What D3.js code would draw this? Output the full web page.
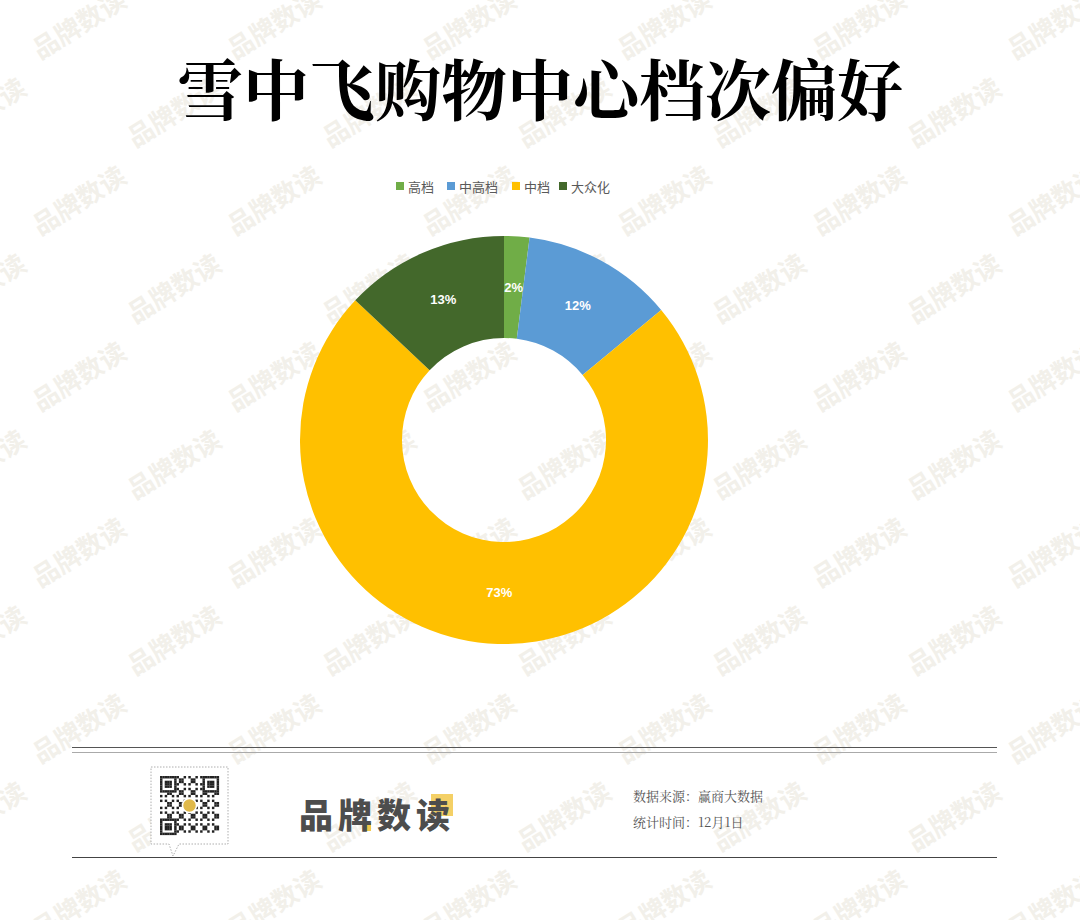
<!DOCTYPE html>
<html><head><meta charset="utf-8">
<script src="https://cdn.jsdelivr.net/npm/d3@7"></script>
<style>
html,body{margin:0;padding:0;background:#fff;}
svg{display:block;}
</style></head>
<body>
<svg id="chart" width="1080" height="920"></svg>
<script>
const title = "雪中飞购物中心档次偏好";
const categories = ["高档", "中高档", "中档", "大众化"];
const values = [2, 12, 73, 13];
const colors = ["#70AD47", "#5B9BD5", "#FFC000", "#43682B"];
const sourceLines = ["数据来源：赢商大数据", "统计时间：12月1日"];
const brand = "品牌数读";

const W = 1080, H = 920;
const svg = d3.select("#chart");
svg.append("rect").attr("width", W).attr("height", H).attr("fill", "#fff");

// faint repeated watermark across the page
const wm = svg.append("g").attr("fill", "#f2f0ea").attr("font-family", "Noto Sans CJK SC").attr("font-weight", 700).attr("font-size", 26);
for (let r = -2; r < 14; r++) {
  for (let c = -1; c < 7; c++) {
    const x = c * 195 + (r % 2 ? 95 : 0) + 40;
    const y = r * 88 + 60;
    wm.append("text").attr("transform", `translate(${x},${y}) rotate(-32)`).text(brand);
  }
}

// title
svg.append("text").attr("x", 540).attr("y", 115).attr("text-anchor", "middle")
  .attr("font-family", "'Noto Serif CJK SC','Noto Sans CJK SC',serif").attr("font-weight", 700)
  .attr("font-size", 66).attr("fill", "#000").text(title);

// legend
const legendX = [396, 447, 512, 559];
const lg = svg.append("g").attr("font-family", "'Noto Sans CJK SC',sans-serif").attr("font-size", 13).attr("fill", "#595959");
categories.forEach((c, i) => {
  lg.append("rect").attr("x", legendX[i]).attr("y", 182).attr("width", 8).attr("height", 8).attr("fill", colors[i]);
  lg.append("text").attr("x", legendX[i] + 12).attr("y", 191.5).text(c);
});

// donut
const cx = 504, cy = 440, R = 204, r0 = 102;
const pie = d3.pie().sort(null).value(d => d)(values);
const arc = d3.arc().innerRadius(r0).outerRadius(R);
const g = svg.append("g").attr("transform", `translate(${cx},${cy})`);
g.selectAll("path").data(pie).join("path").attr("d", arc).attr("fill", (d, i) => colors[i]);
const labelArc = d3.arc().innerRadius((R + r0) / 2).outerRadius((R + r0) / 2);
g.selectAll("text").data(pie).join("text")
  .attr("transform", d => `translate(${labelArc.centroid(d)})`)
  .attr("text-anchor", "middle").attr("dy", "0.35em")
  .attr("font-family", "Arial, 'Liberation Sans', sans-serif").attr("font-weight", 700)
  .attr("font-size", 13).attr("fill", "#fff")
  .text(d => d.data + "%");

// footer lines
svg.append("line").attr("x1", 72).attr("x2", 997).attr("y1", 747.5).attr("y2", 747.5).attr("stroke", "#555").attr("stroke-width", 1);
svg.append("line").attr("x1", 72).attr("x2", 997).attr("y1", 752.5).attr("y2", 752.5).attr("stroke", "#aaa").attr("stroke-width", 1);
svg.append("line").attr("x1", 72).attr("x2", 997).attr("y1", 857.5).attr("y2", 857.5).attr("stroke", "#444").attr("stroke-width", 1.2);

// QR box
const qx = 151, qy = 767, qs = 77;
svg.append("path").attr("d", `M${qx},${qy}H${qx+qs}V${qy+qs}H${qx+28}L${qx+22},${qy+qs+12}L${qx+18},${qy+qs}H${qx}Z`)
  .attr("fill", "#fff").attr("stroke", "#999").attr("stroke-dasharray", "1.5,1.5").attr("stroke-width", 0.8);
const qr = svg.append("g").attr("transform", `translate(${qx+9},${qy+9})`);
const n = 25, cell = 59 / n;
function finder(i, j) {
  return (i < 7 && j < 7) || (i < 7 && j >= n - 7) || (i >= n - 7 && j < 7);
}
for (let i = 0; i < n; i++) for (let j = 0; j < n; j++) {
  let on;
  if (finder(i, j)) {
    const a = i < 7 ? i : i - (n - 7), b = j < 7 ? j : j - (n - 7);
    on = a === 0 || a === 6 || b === 0 || b === 6 || (a >= 2 && a <= 4 && b >= 2 && b <= 4);
  } else {
    on = ((i * 7 + j * 13 + i * j * 3) % 5) < 2;
  }
  if (on) qr.append("rect").attr("x", j * cell).attr("y", i * cell).attr("width", cell + 0.1).attr("height", cell + 0.1).attr("fill", "#222");
}
qr.append("circle").attr("cx", 29.5).attr("cy", 29.5).attr("r", 7).attr("fill", "#e0b94a").attr("stroke", "#fff").attr("stroke-width", 1.5);

// brand
svg.append("rect").attr("x", 431).attr("y", 794).attr("width", 22).attr("height", 22).attr("fill", "#f2c84b").attr("opacity", 0.85);
svg.append("rect").attr("x", 363).attr("y", 823).attr("width", 8).attr("height", 8).attr("fill", "#f2c84b");
svg.append("text").attr("x", 299).attr("y", 828).attr("font-family", "'Noto Sans CJK SC',sans-serif").attr("font-weight", 900)
  .attr("font-size", 34).attr("fill", "#4d4d4d").attr("letter-spacing", 5).text(brand);

// source
const sg = svg.append("g").attr("font-family", "'Noto Serif CJK SC','Noto Sans CJK SC',serif").attr("font-size", 13).attr("fill", "#555");
sourceLines.forEach((t, i) => sg.append("text").attr("x", 633).attr("y", 801 + i * 26).text(t));
</script>
</body></html>
